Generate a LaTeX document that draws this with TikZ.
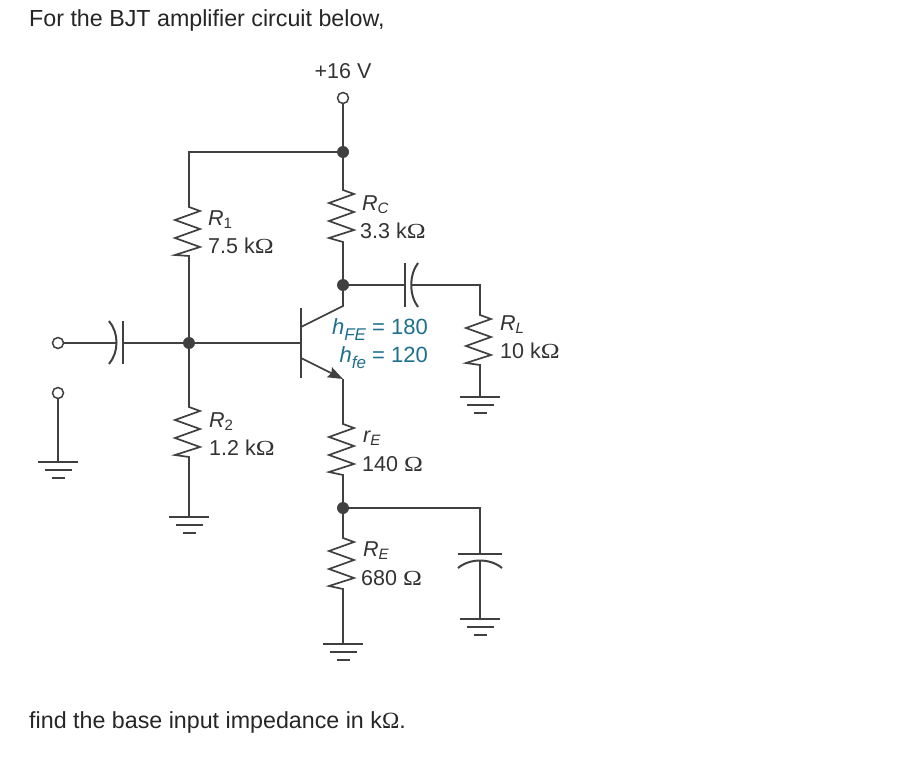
\documentclass[tikz,border=0pt]{standalone}
\usepackage{fontspec}
\setmainfont{Liberation Sans}
\newfontfamily\omegafont{Liberation Serif}
\usetikzlibrary{arrows.meta}
\definecolor{wirecol}{HTML}{404040}
\definecolor{textcol}{HTML}{333333}
\definecolor{gaincol}{HTML}{1F6F8F}
\newcommand{\ohm}{{\omegafont\symbol{"03A9}}}
\newcommand{\wideohm}{\scalebox{1.18}[1]{\ohm}}
\newcommand{\lowsub}[1]{\raisebox{-0.28em}{\fontsize{17}{17}\selectfont #1}}
\tikzset{
  wire/.style={draw=wirecol, line width=1.7pt, line join=miter},
  plate/.style={draw=wirecol, line width=2pt},
  zig/.style={to path={-- ++(11,4) -- ++(-25,9) -- ++(25,9) -- ++(-25,9) -- ++(25,9) -- ++(-25,8) -- (\tikztotarget)}},
  dot/.style={circle, fill=wirecol, inner sep=0pt, minimum size=12pt},
  term/.style={circle, draw=wirecol, line width=1.5pt, fill=white, inner sep=0pt, minimum size=11pt},
  val/.style={anchor=base west, inner sep=0pt, text=textcol, font=\fontsize{21.5}{25}\selectfont},
  gain/.style={anchor=base east, inner sep=0pt, text=gaincol, font=\fontsize{22}{27}\selectfont},
  para/.style={anchor=base west, inner sep=0pt, text=black!85, font=\fontsize{23.25}{28}\selectfont}
}
\begin{document}
\begin{tikzpicture}[x=1pt, y=-1pt]
  \useasboundingbox (0,0) rectangle (922,760);

  % Texte
  \node[para] (top_text) at (29,27) {For the BJT amplifier circuit below,};
  \node[para] (end_text) at (29,728) {find the base input impedance in k\ohm.};

  % Branche du collecteur
  \node[term] (vcc) at (343,98) {};
  \node[dot] (j_top) at (343,152) {};
  \coordinate (rc_a) at (343,190);
  \coordinate (rc_b) at (343,242);
  \node[dot] (j_c) at (343,285) {};
  \coordinate (col) at (343,306);
  \coordinate (col_b) at (301,327);
  \draw[wire] (vcc) -- (j_top) -- (rc_a) to[zig] (rc_b) -- (j_c) -- (col) -- (col_b);

  % Pont de base
  \coordinate (top_left) at (189,152);
  \coordinate (r1_a) at (189,207);
  \coordinate (r1_b) at (189,256);
  \node[dot] (j_b) at (189,343) {};
  \coordinate (r2_a) at (189,407);
  \coordinate (r2_b) at (189,457);
  \coordinate (gnd_r2) at (189,517);
  \draw[wire] (j_top) -- (top_left) -- (r1_a) to[zig] (r1_b) -- (j_b) -- (r2_a) to[zig] (r2_b) -- (gnd_r2);

  % Transistor
  \coordinate (bar_a) at (301,308);
  \coordinate (bar_b) at (301,378);
  \coordinate (base) at (301,343);
  \coordinate (em_b) at (301,358);
  \coordinate (em) at (343,379);
  \draw[plate] (bar_a) -- (bar_b);
  \draw[wire] (j_b) -- (base);
  \draw[wire, -{Stealth[length=15pt, width=11pt, inset=2pt]}] (em_b) -- (em);

  % Branche de l'émetteur
  \coordinate (re1_a) at (343,424);
  \coordinate (re1_b) at (343,475);
  \node[dot] (j_e) at (343,508) {};
  \coordinate (re2_a) at (343,538);
  \coordinate (re2_b) at (343,589);
  \coordinate (gnd_e) at (343,644);
  \draw[wire] (em) -- (re1_a) to[zig] (re1_b) -- (j_e) -- (re2_a) to[zig] (re2_b) -- (gnd_e);

  % Condensateur de découplage
  \coordinate (byp_corner) at (480,508);
  \coordinate (byp_a) at (480,554);
  \coordinate (byp_b) at (480,561);
  \coordinate (gnd_byp) at (480,619);
  \draw[wire] (j_e) -- (byp_corner) -- (byp_a);
  \draw[wire] (byp_b) -- (gnd_byp);
  \draw[plate] (458,554) -- (502,554);
  \draw[plate] (458,568) .. controls (470,558) and (490,558) .. (502,568);

  % Sortie
  \coordinate (out_a) at (405,285);
  \coordinate (out_b) at (412,285);
  \coordinate (out_corner) at (480,285);
  \coordinate (rl_a) at (480,315);
  \coordinate (rl_b) at (480,365);
  \coordinate (gnd_rl) at (480,397);
  \draw[wire] (j_c) -- (out_a);
  \draw[wire] (out_b) -- (out_corner) -- (rl_a) to[zig] (rl_b) -- (gnd_rl);
  \draw[plate] (405,263) -- (405,307);
  \draw[plate] (418,263) .. controls (409,275) and (409,295) .. (418,307);

  % Entrée
  \node[term] (in_a) at (58,343) {};
  \node[term] (in_b) at (58,393) {};
  \coordinate (in_c) at (116,343);
  \coordinate (in_d) at (123,343);
  \coordinate (gnd_in) at (58,462);
  \draw[wire] (in_a) -- (in_c);
  \draw[wire] (in_d) -- (j_b);
  \draw[wire] (in_b) -- (gnd_in);
  \draw[plate] (123,321) -- (123,364);
  \draw[plate] (109,321) .. controls (119,333) and (119,352) .. (109,364);

  % Masses
  \foreach \g in {gnd_in, gnd_r2, gnd_e, gnd_byp, gnd_rl}
    \draw[plate] (\g) ++(-20,0) -- ++(40,0) ++(-33.5,8) -- ++(27,0) ++(-20,8) -- ++(13,0);

  % Valeurs
  \node[val, anchor=base] (vcc_lbl) at (343,79) {+16 V};
  \node[val] (r1_name) at (208,225) {\textit{R}\textsubscript{1}};
  \node[val] (r1_val) at (208,253) {7.5 k\wideohm};
  \node[val] (r2_name) at (209,427) {\textit{R}\textsubscript{2}};
  \node[val] (r2_val) at (209,455) {1.2 k\wideohm};
  \node[val] (rc_name) at (362,210) {\textit{R\textsubscript{C}}};
  \node[val] (rc_val) at (360,238) {3.3 k\wideohm};
  \node[val] (rl_name) at (500,330) {\textit{R\textsubscript{L}}};
  \node[val] (rl_val) at (500,358) {10 k\wideohm};
  \node[val] (re1_name) at (363,442) {\textit{r\textsubscript{E}}};
  \node[val] (re1_val) at (362,471) {140 \wideohm};
  \node[val] (re2_name) at (363,556) {\textit{R\textsubscript{E}}};
  \node[val] (re2_val) at (361,585) {680 \wideohm};
  \node[gain] (hfe_dc) at (428,334) {\textit{h\lowsub{FE}} = 180};
  \node[gain] (hfe_ac) at (428,362) {\textit{h\lowsub{fe}} = 120};
\end{tikzpicture}
\end{document}
